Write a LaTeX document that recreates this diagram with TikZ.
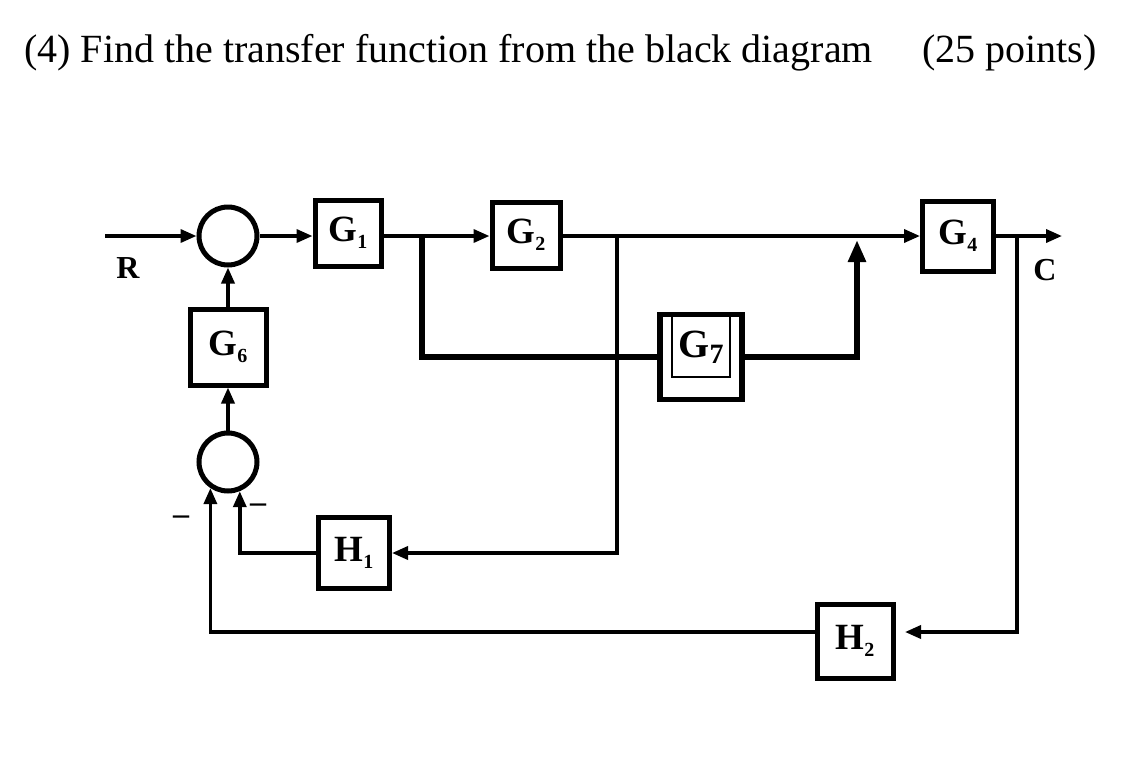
\documentclass[tikz,border=0pt]{standalone}
\usepackage{fontspec}
\setmainfont{Liberation Serif}
\usetikzlibrary{arrows.meta, positioning}

\newcommand{\gsub}[2]{#1\raisebox{-0.4ex}{\fontsize{20}{20}\selectfont #2}}

\begin{document}
\begin{tikzpicture}[x=1pt, y=-1pt,
    block/.style={rectangle, draw, line width=5pt, minimum width=66, minimum height=66, inner sep=0pt, font=\fontsize{37}{37}\selectfont\bfseries},
    sum/.style={circle, draw, line width=5pt, minimum size=58, inner sep=0pt},
    link/.style={line width=3.5pt},
    arrow/.style={-{Triangle[length=16pt,width=13pt]}, line width=3.5pt},
    heavy/.style={line width=6pt},
    heavyarrow/.style={-{Triangle[length=22pt,width=17pt]}, line width=6pt},
    sig/.style={font=\fontsize{32}{32}\selectfont\bfseries}
]
\useasboundingbox (0,0) rectangle (1136,764);

% Title
\node[anchor=base west, inner sep=0pt, font=\fontsize{40}{40}\selectfont] (title) at (24,62) {(4) Find the transfer function from the black diagram};
\node[anchor=base west, inner sep=0pt, font=\fontsize{40}{40}\selectfont] (points) at (922,62) {(25 points)};

% Forward path
\node[sum] (sum1) at (228,236) {};
\node[block] (G1) at (348,233) {\gsub{G}{1}};
\node[block, minimum width=68] (G2) at (526,235) {\gsub{G}{2}};
\node[block, minimum width=71, minimum height=70] (G4) at (958,236) {\gsub{G}{4}};
\node[block, minimum width=82, minimum height=85, line width=5.5pt] (G7) at (701,357) {};
\draw[line width=1.5pt] (672,313) |- (730,377) -- (730,313);
\node[inner sep=0pt, font=\fontsize{40}{40}\selectfont\bfseries] (G7lbl) at (701,347) {G\raisebox{-0.35ex}{\fontsize{28}{28}\selectfont 7}};

% Inner loop
\node[block, minimum width=76, minimum height=76] (G6) at (228,347) {\gsub{G}{6}};
\node[sum] (sum2) at (228,462) {};
\node[block, minimum width=71, minimum height=71] (H1) at (354,553) {\gsub{H}{1}};
\node[block, minimum width=76, minimum height=74] (H2) at (855,641) {\gsub{H}{2}};

% Signals and branch points
\coordinate (rin) at (105,236);
\coordinate (cout) at (1062,236);
\coordinate (b1) at (422,236);
\coordinate (j1) at (617,236);
\coordinate (j2) at (1017,236);
\coordinate (j3) at (857,240);
\coordinate (h2in) at (905,632);
\node[sig] (R) at (128,268) {R};
\node[sig] (C) at (1045,270) {C};
\node[sig] (m1) at (181,520) {--};
\node[sig] (m2) at (258,508) {--};

% Arrows
\draw[arrow] (rin) -- (sum1.west);
\draw[arrow] (sum1.east) -- (sum1.east -| G1.west);
\draw[link] (sum1.east -| G1.east) -- (b1);
\draw[arrow] (b1) -- (b1 -| G2.west);
\draw[arrow] (b1 -| G2.east) -- (G4.west);
\draw[arrow] (G4.east) -- (cout);
\draw[heavy] (b1) |- (G7.west);
\draw[heavyarrow] (G7.east) -| (j3);
\draw[arrow] (j1) |- (H1.east);
\draw[arrow] (H1.west) -| (sum2.-68);
\draw[arrow] (j2) |- (h2in);
\draw[arrow] (H2.west |- h2in) -| (sum2.-124);
\draw[arrow] (sum2.north) -- (G6.south);
\draw[arrow] (G6.north) -- (sum1.south);

\end{tikzpicture}
\end{document}
